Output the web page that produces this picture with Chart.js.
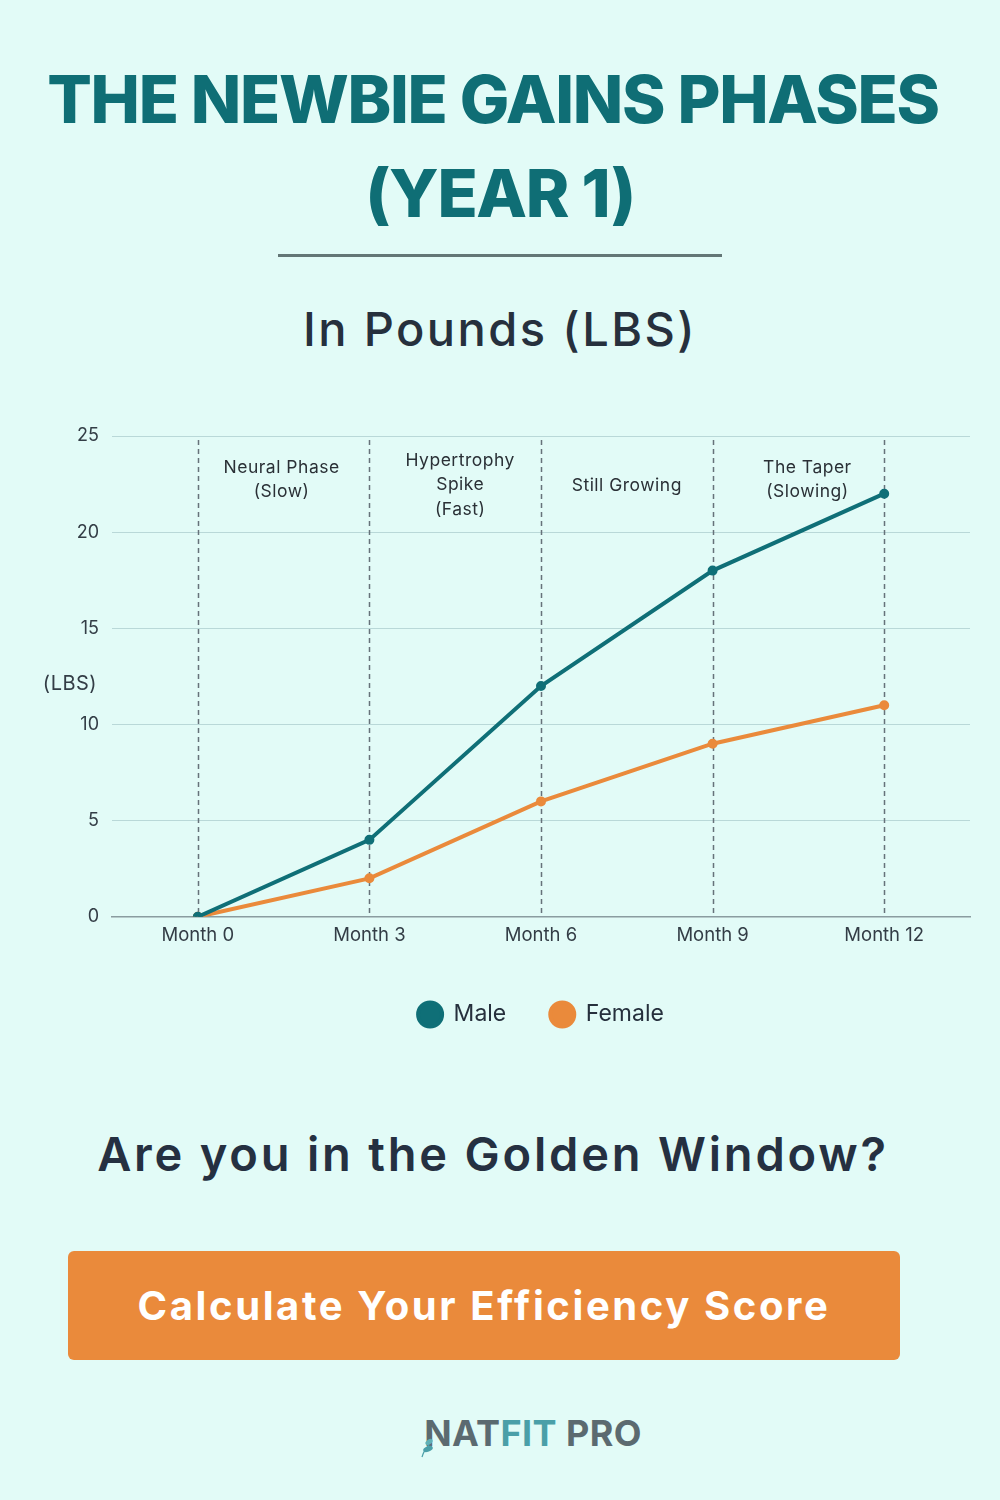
<!DOCTYPE html>
<html>
<head>
<meta charset="utf-8">
<script src="https://cdn.jsdelivr.net/npm/chart.js@4.4.1/dist/chart.umd.min.js"></script>
<style>
  html, body { margin: 0; padding: 0; }
  body {
    width: 1000px; height: 1500px; position: relative; overflow: hidden;
    background: #e2fbf7; font-family: Inter, "Open Sans", sans-serif;
  }
  .title {
    position: absolute; left: 0; width: 986px; text-align: center;
    color: #0f6e75; font-weight: 800; font-size: 66px; letter-spacing: -1.3px;
    line-height: 1;
  }
  .rule { position: absolute; left: 278px; top: 254px; width: 444px; height: 3px; background: #637676; }
  .sub {
    position: absolute; left: 0; width: 1000px; text-align: center;
    color: #26303d; font-weight: 500; font-size: 47px; letter-spacing: 2.4px; line-height: 1;
  }
  #wrap { position: absolute; left: 0; top: 400px; width: 1000px; height: 636px; }
  .question {
    position: absolute; left: 0; width: 986px; top: 1130px; text-align: center;
    color: #253041; font-weight: 600; font-size: 47px; letter-spacing: 2.8px; line-height: 1;
  }
  .btn {
    position: absolute; left: 68px; top: 1251px; width: 832px; height: 109px;
    background: #ea8a3b; border-radius: 6px; color: #fff; font-weight: 700;
    font-size: 40px; display: flex; align-items: center; justify-content: center;
    letter-spacing: 2.6px;
  }
  .logo {
    position: absolute; left: 0; width: 1066px; top: 1415px; text-align: center;
    font-weight: 700; font-size: 36px; letter-spacing: 0.4px; color: #5b6a70; line-height: 1;
  }
  .logo .fit { color: #4a9fa8; }
  .leaf { position: absolute; left: 417px; top: 1436px; }
</style>
</head>
<body>
<div class="title" style="top:66px">THE NEWBIE GAINS PHASES</div>
<div class="title" style="top:160px; width:1000px">(YEAR 1)</div>
<div class="rule"></div>
<div class="sub" style="top:305px">In Pounds (LBS)</div>
<div id="wrap"><canvas id="chart"></canvas></div>
<div class="question">Are you in the Golden Window?</div>
<div class="btn">Calculate Your Efficiency Score</div>
<div class="logo">NAT<span class="fit">FIT</span> PRO</div>
<svg class="leaf" width="22" height="22" viewBox="0 0 22 22">
  <ellipse cx="12" cy="6" rx="4" ry="2.4" transform="rotate(-35 12 6)" fill="#5fb0b6"/>
  <ellipse cx="11" cy="13" rx="5" ry="2.6" transform="rotate(-20 11 13)" fill="#4a9fa8"/>
  <path d="M5 21 Q7 14 12 9" stroke="#4a9fa8" stroke-width="1.2" fill="none"/>
</svg>

<script>
// data
const months = ['Month 0', 'Month 3', 'Month 6', 'Month 9', 'Month 12'];
const maleGain = [0, 4, 12, 18, 22];
const femaleGain = [0, 2, 6, 9, 11];
const yTicks = [0, 5, 10, 15, 20, 25];
const phaseLabels = [
  ['Neural Phase', '(Slow)'],
  ['Hypertrophy', 'Spike', '(Fast)'],
  ['Still Growing'],
  ['The Taper', '(Slowing)']
];

const TEAL = '#0f6f77';
const ORANGE = '#ea8a3b';
const FONT = 'Inter, "Open Sans", sans-serif';

// dashed month lines + phase captions + horizontal "(LBS)" label
const phasePlugin = {
  id: 'phases',
  beforeDatasetsDraw(chart) {
    const { ctx, chartArea, scales } = chart;
    ctx.save();
    ctx.strokeStyle = '#66727a';
    ctx.lineWidth = 1.5;
    ctx.setLineDash([5, 4]);
    months.forEach((m, i) => {
      const x = Math.round(scales.x.getPixelForValue(i)) + 0.5;
      ctx.beginPath();
      ctx.moveTo(x, chartArea.top + 4);
      ctx.lineTo(x, chartArea.bottom);
      ctx.stroke();
    });
    ctx.setLineDash([]);

    // caption nudges, as placed in the original
    const dx = [-2, 5, 0, 9];
    const cy = [43.5, 49, 50, 43.5];
    ctx.fillStyle = '#2a3036';
    ctx.font = '17.5px ' + FONT;
    ctx.letterSpacing = '0.5px';
    ctx.textAlign = 'center';
    ctx.textBaseline = 'middle';
    phaseLabels.forEach((lines, i) => {
      const x = (scales.x.getPixelForValue(i) + scales.x.getPixelForValue(i + 1)) / 2 + dx[i];
      const lh = 24.5;
      lines.forEach((t, k) => {
        ctx.fillText(t, x, chartArea.top + cy[i] + (k - (lines.length - 1) / 2) * lh);
      });
    });

    ctx.fillStyle = '#333d46';
    ctx.font = '20px ' + FONT;
    ctx.fillText('(LBS)', 70, (chartArea.top + chartArea.bottom) / 2 + 8);
    ctx.restore();
  }
};

new Chart(document.getElementById('chart'), {
  type: 'line',
  data: {
    labels: months,
    datasets: [
      { label: 'Male', data: maleGain, borderColor: TEAL, backgroundColor: TEAL,
        borderWidth: 4, pointRadius: 3, pointHoverRadius: 3, tension: 0 },
      { label: 'Female', data: femaleGain, borderColor: ORANGE, backgroundColor: ORANGE,
        borderWidth: 4, pointRadius: 3, pointHoverRadius: 3, tension: 0 }
    ]
  },
  options: {
    responsive: true,
    maintainAspectRatio: false,
    animation: false,
    layout: { padding: { top: 36, right: 30, left: 0, bottom: 0 } },
    scales: {
      x: {
        offset: true,
        afterFit: s => { s.height += 12; },
        grid: { display: false },
        border: { display: true, color: '#8a9ca0', width: 1.5 },
        ticks: { color: '#333d46', font: { family: FONT, size: 18.5 }, padding: 0 }
      },
      y: {
        min: 0, max: 25,
        afterBuildTicks: s => { s.ticks = yTicks.map(v => ({ value: v })); },
        afterFit: s => { s.width = 112; },
        grid: { color: '#b9d8d8', lineWidth: 1, drawTicks: false },
        border: { display: false },
        ticks: { color: '#333d46', font: { family: FONT, size: 18 }, padding: 13 }
      }
    },
    plugins: {
      legend: {
        position: 'bottom',
        fullSize: false,
        labels: {
          usePointStyle: true, pointStyle: 'circle', boxWidth: 17, boxHeight: 17,
          pointStyleWidth: 24,
          padding: 44, color: '#26303d', font: { family: FONT, size: 23 }
        }
      },
      tooltip: { enabled: false }
    }
  },
  plugins: [phasePlugin]
});
</script>
</body>
</html>
